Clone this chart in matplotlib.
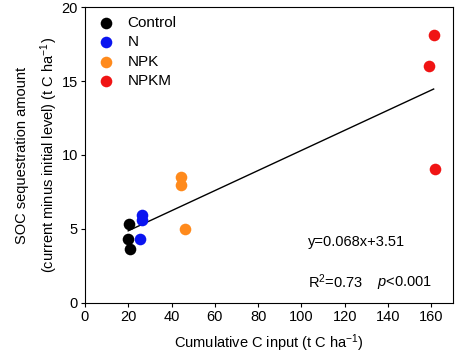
import numpy as np
import matplotlib
matplotlib.use("Agg")
import matplotlib.pyplot as plt

plt.rcParams['font.family'] = ['Liberation Sans', 'DejaVu Sans']
plt.rcParams['mathtext.fontset'] = 'custom'
plt.rcParams['mathtext.rm'] = 'Liberation Sans'
plt.rcParams['mathtext.it'] = 'Liberation Sans:italic'
plt.rcParams['mathtext.default'] = 'regular'

# cumulative C input and SOC sequestration
groups = ["Control", "N", "NPK", "NPKM"]
colors = ["black", "#0a14f0", "#ff8a1c", "#f01414"]
c_input = [[20.4, 19.9, 20.9],
           [26.6, 26.2, 25.5],
           [44.5, 44.5, 46.4],
           [161.0, 159.0, 161.4]]
soc = [[5.3, 4.3, 3.65],
       [5.95, 5.6, 4.3],
       [8.5, 8.0, 5.0],
       [18.1, 16.0, 9.05]]

# regression line y = 0.068x + 3.51
slope, intercept = 0.068, 3.51
fit_x = np.array([20.0, 161.0])

fig = plt.figure(figsize=(4.74, 3.53), dpi=100)
ax = fig.add_axes([0.179, 0.142, 0.777, 0.838])

ax.plot(fit_x, slope * fit_x + intercept, "k-", lw=1.0, zorder=2)
for g, col, xs, ys in zip(groups, colors, c_input, soc):
    ax.scatter(xs, ys, s=70, color=col, label=g, zorder=3, linewidths=0)

ax.set_xlim(0, 170)
ax.set_ylim(0, 20)
ax.set_xticks(np.arange(0, 161, 20))
ax.set_yticks([0, 5, 10, 15, 20])
ax.tick_params(direction="out", length=3, labelsize=10.5, pad=2)
for sp in ax.spines.values():
    sp.set_linewidth(0.8)

ax.set_xlabel("Cumulative C input (t C ha$^{-1}$)", fontsize=10.5, labelpad=6)
ax.set_ylabel("SOC sequestration amount\n(current minus initial level) (t C ha$^{-1}$)",
              fontsize=10.5, labelpad=1, linespacing=1.6)

ax.text(103, 4.1, "y=0.068x+3.51", fontsize=10.5, va="center")
ax.text(103, 1.4, "R$^2$=0.73", fontsize=10.5, va="center")
ax.text(135, 1.4, "$\\mathit{p}$<0.001", fontsize=10.5, va="center")

leg = ax.legend(loc="upper left", frameon=False, fontsize=11, handletextpad=0.4,
                borderaxespad=0.0, borderpad=0.4, labelspacing=0.34, scatterpoints=1,
                bbox_to_anchor=(0.0, 0.99))

fig.savefig("out.png", dpi=100)
